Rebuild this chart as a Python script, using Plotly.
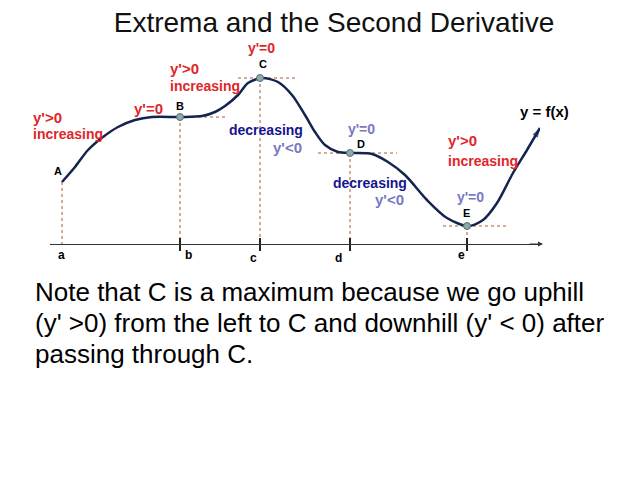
import plotly.graph_objects as go

# ---- data (x in axis units, y above the x-axis) ----
curve_x = [62, 75, 88, 103, 118, 135, 152, 182, 202, 215, 225, 238, 248, 262, 278, 292, 305, 315,
           325, 338, 352, 372, 388, 405, 427, 447, 468, 483, 497, 513, 527, 540]
curve_y = [62, 77, 94, 107, 117, 124, 127, 127, 128, 132, 138, 149, 161, 166, 162, 149, 129, 112,
           99, 92, 91, 90, 82, 69, 44, 26, 18, 24, 41, 71, 94, 116]

point_names = ["A", "B", "C", "D", "E"]
point_x = [62, 180, 260, 350, 467]
point_y = [62, 127, 166, 91, 18]
tick_names = ["a", "b", "c", "d", "e"]
guide_left = [None, 150, 238, 318, 443]
guide_right = [None, 227, 297, 397, 508]

note_lines = ["Note that C is a maximum because we go uphill",
              "(y' >0) from the left to C and downhill (y' < 0) after",
              "passing through C."]

CURVE = "#14244f"
RED = "#e0262b"
NAVY = "#15158e"
LIGHT = "#7878c2"
GUIDE = "#b0592c"
FONT = "Arial, Liberation Sans, sans-serif"

X0, X1, Y0, Y1 = 50, 540, 0, 244   # axis ranges (1 unit = 1 px)

fig = go.Figure()

vx, vy, hx, hy = [], [], [], []
for i in range(len(point_x)):
    vx += [point_x[i], point_x[i], None]
    vy += [point_y[i], 0, None]
    if guide_left[i] is not None:
        hx += [guide_left[i], guide_right[i], None]
        hy += [point_y[i], point_y[i], None]
fig.add_trace(go.Scatter(x=vx, y=vy, mode="lines", line=dict(color=GUIDE, width=1, dash="dot"),
                         hoverinfo="skip", cliponaxis=False))
fig.add_trace(go.Scatter(x=hx, y=hy, mode="lines", line=dict(color=GUIDE, width=1, dash="dot"),
                         hoverinfo="skip", cliponaxis=False))

n = len(curve_x)
fig.add_trace(go.Scatter(
    x=curve_x, y=curve_y, mode="lines+markers",
    line=dict(color=CURVE, width=2.5, shape="spline", smoothing=0.8),
    marker=dict(symbol=["circle"] * (n - 1) + ["arrow"], size=[0] * (n - 1) + [10],
                angleref="previous", color=CURVE, line=dict(width=0)),
    hoverinfo="skip", cliponaxis=False))

fig.add_trace(go.Scatter(x=point_x[1:], y=point_y[1:], mode="markers",
                         marker=dict(size=7, color="#8fa9a9", line=dict(color="#4f6f77", width=1)),
                         hoverinfo="skip", cliponaxis=False))

# invisible trace on the overlaying axis so its inside ticks show
fig.add_trace(go.Scatter(x=[X0, X1], y=[0, 0], xaxis="x2", mode="lines",
                         line=dict(width=0), hoverinfo="skip", showlegend=False))

ann = []
def T(text, x, y, color="black", size=14, bold=True, xanchor="center"):
    ann.append(dict(text=("<b>%s</b>" % text) if bold else text,
                    x=(x - X0) / (X1 - X0), y=(y - Y0) / (Y1 - Y0), xref="paper", yref="paper",
                    showarrow=False, xanchor=xanchor, yanchor="middle",
                    font=dict(family=FONT, size=size, color=color)))

T("y'=0", 261, 196, RED, 14)
T("y'>0", 168, 176, RED, 15, xanchor="left")
T("increasing", 168, 158, RED, 14, xanchor="left")
T("y'>0", 31, 127, RED, 15, xanchor="left")
T("increasing", 31, 110, RED, 14, xanchor="left")
T("y'=0", 148, 136, RED, 15)
T("decreasing", 266, 114, NAVY, 14)
T("y'<0", 287, 97, LIGHT, 15)
T("y'=0", 361, 115, LIGHT, 14)
T("decreasing", 370, 61, NAVY, 14)
T("y'<0", 389, 45, LIGHT, 15)
T("y'>0", 446, 103, RED, 15, xanchor="left")
T("increasing", 446, 83, RED, 14, xanchor="left")
T("y'=0", 470, 47, LIGHT, 14)
T("y = f(x)", 544, 132, "black", 15)

name_pos = [(58, 73), (180, 138), (263, 180), (361, 100), (466, 31)]
for nm, (px, py) in zip(point_names, name_pos):
    T(nm, px, py, "black", 11)
tick_pos = [(61, -11), (188, -11), (253, -14), (338, -14), (461, -11)]
for nm, (px, py) in zip(tick_names, tick_pos):
    T(nm, px, py, "black", 12)

# x-axis arrowhead
ann.append(dict(x=543, y=0, ax=528, ay=0, xref="x", yref="y", axref="x", ayref="y",
                showarrow=True, arrowhead=2, arrowsize=1, arrowwidth=1, arrowcolor="#333333", text=""))

# note paragraph, one annotation per line
for k, line in enumerate(note_lines):
    T(line, 33, 244 - (292 + 31 * k), "black", 26, bold=False, xanchor="left")

fig.update_layout(
    width=638, height=479, autosize=False,
    margin=dict(l=X0, r=638 - X1, t=0, b=479 - 244),
    paper_bgcolor="white", plot_bgcolor="white",
    showlegend=False,
    title=dict(text="Extrema and the Second Derivative", x=334 / 638, xanchor="center",
               y=1 - 22 / 479, yanchor="middle", yref="container",
               font=dict(family=FONT, size=28, color="#111111")),
    xaxis=dict(range=[X0, X1], showgrid=False, zeroline=False, showline=True, linecolor="#333333",
               linewidth=1.3, ticks="outside", tickvals=point_x[1:], ticklen=6, tickwidth=1.5,
               tickcolor="#222222", showticklabels=False, fixedrange=True),
    xaxis2=dict(range=[X0, X1], overlaying="x", side="bottom", anchor="y", showgrid=False,
                zeroline=False, showline=False, ticks="inside", tickvals=point_x[1:], ticklen=6,
                tickwidth=1.5, tickcolor="#222222", showticklabels=False, fixedrange=True),
    yaxis=dict(range=[Y0, Y1], showgrid=False, zeroline=False, showline=False, showticklabels=False,
               fixedrange=True),
    annotations=ann,
)

fig.write_html("out.html", config={"displayModeBar": False},
               post_script="document.body.style.margin='0';document.body.style.overflow='hidden';")
